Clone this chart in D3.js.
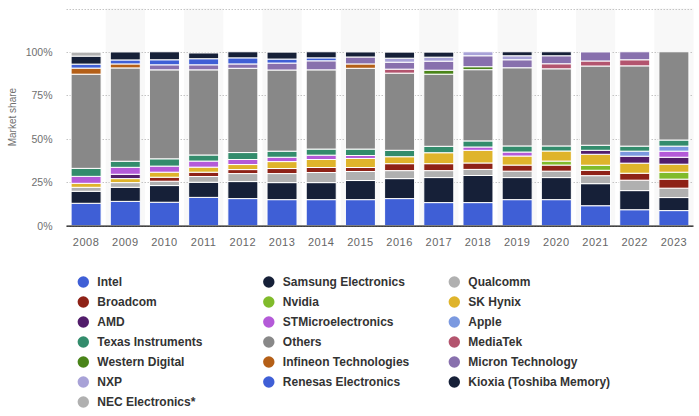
<!DOCTYPE html>
<html>
<head>
<meta charset="utf-8">
<script src="https://cdn.jsdelivr.net/npm/d3@7/dist/d3.min.js"></script>
<style>
  html, body { margin: 0; padding: 0; background: #fff; }
  svg { display: block; font-family: "Liberation Sans", Arial, sans-serif; }
</style>
</head>
<body>
<svg id="chart" width="699" height="416"></svg>
<script>
const years = ["2008","2009","2010","2011","2012","2013","2014","2015","2016","2017","2018","2019","2020","2021","2022","2023"];

const seriesNames = ["Intel","Samsung Electronics","Qualcomm","Broadcom","Nvidia","SK Hynix","AMD","STMicroelectronics","Apple","Texas Instruments","Others","MediaTek","Western Digital","Infineon Technologies","Micron Technology","NXP","Renesas Electronics","Kioxia (Toshiba Memory)","NEC Electronics*"];

const intel     = [12.9, 14.0, 13.5, 16.3, 15.6, 15.0, 15.0, 15.0, 15.6, 13.3, 13.3, 15.0, 15.0, 11.5, 9.2, 8.7];
const samsung   = [6.9, 8.1, 9.6, 8.7, 9.8, 9.8, 9.8, 11.0, 11.5, 14.4, 15.6, 12.7, 12.7, 12.7, 11.0, 7.5];
const qualcomm  = [2.3, 2.7, 2.5, 3.3, 4.6, 5.2, 5.8, 5.2, 4.6, 4.0, 3.5, 3.7, 3.7, 4.6, 6.0, 5.4];
const broadcom  = [0, 0, 2.3, 2.5, 2.3, 2.9, 2.9, 2.3, 4.0, 4.0, 3.7, 3.5, 3.5, 3.1, 4.0, 5.2];
const nvidia    = [0, 0, 0, 0, 0, 0, 0, 0, 0, 0, 0, 0, 2.3, 2.9, 0, 4.0];
const skhynix   = [2.3, 2.3, 2.9, 2.9, 2.9, 4.0, 4.6, 5.2, 4.0, 6.3, 7.3, 5.2, 5.8, 6.3, 5.8, 4.6];
const amd       = [0, 2.5, 0, 0, 0, 0, 0, 0, 0, 0, 0, 0, 0, 2.3, 4.0, 4.0];
const stmicro   = [4.0, 4.0, 3.5, 3.5, 2.9, 2.5, 2.5, 1.7, 0, 0, 1.9, 2.3, 0, 0, 0, 3.5];
const apple     = [0, 0, 0, 0, 0, 0, 0, 0, 0, 0, 0, 0, 0, 0, 2.9, 2.9];
const ti        = [4.6, 3.5, 4.2, 3.5, 4.0, 3.5, 3.5, 3.7, 3.7, 3.7, 3.5, 3.5, 2.9, 2.9, 2.9, 3.5];
const others    = [54.2, 53.7, 51.2, 49.0, 48.5, 46.7, 45.6, 46.5, 44.4, 41.5, 41.0, 45.0, 44.4, 45.6, 46.2, 50.8];
const mediatek  = [0, 0, 0, 0, 0, 0, 0, 0, 2.3, 0, 0, 0, 2.9, 2.9, 3.5, 0];
const wdigital  = [0, 0, 0, 0, 0, 0, 0, 0, 0, 2.3, 1.7, 0, 0, 0, 0, 0];
const infineon  = [3.5, 2.3, 0, 0, 0, 0, 0, 2.5, 0, 0, 0, 0, 0, 0, 0, 0];
const micron    = [0, 0, 2.9, 2.9, 2.5, 4.0, 5.2, 4.0, 4.0, 5.2, 6.3, 4.6, 4.6, 5.2, 4.6, 0];
const nxp       = [0, 0, 0, 0, 0, 0, 0, 0, 2.3, 2.3, 2.3, 2.3, 0, 0, 0, 0];
const renesas   = [2.3, 2.3, 2.9, 3.5, 3.5, 2.3, 1.7, 0, 0, 0, 0, 0, 0, 0, 0, 0];
const kioxia    = [4.6, 4.6, 4.6, 3.3, 3.5, 4.0, 3.5, 2.9, 3.5, 2.9, 0, 2.3, 2.3, 0, 0, 0];
const nec       = [2.3, 0, 0, 0, 0, 0, 0, 0, 0, 0, 0, 0, 0, 0, 0, 0];

const seriesValues = [intel, samsung, qualcomm, broadcom, nvidia, skhynix, amd, stmicro, apple, ti, others, mediatek, wdigital, infineon, micron, nxp, renesas, kioxia, nec];

const colors = ["#3f5fd6","#162038","#b0b0b0","#8e2217","#80bb2b","#dfb42b","#521d6b","#b45ad8","#7b99e0","#338c6c","#888888","#b3546e","#4a8419","#b45f17","#8870ad","#a8a2d7","#3f5fd6","#162038","#b0b0b0"];

const yTicks = [0, 25, 50, 75, 100, 125];
const yTickLabels = ["0%","25%","50%","75%","100%",""];

(function () {
const table = years.map((yr, i) => {
  const row = { year: yr };
  seriesNames.forEach((n, k) => { row[n] = seriesValues[k][i]; });
  return row;
});

const svg = d3.select("#chart");
const pLeft = 66.5, pRight = 693.5, pTop = 8.5, pBottom = 225.7;

const x = d3.scaleBand().domain(years).range([pLeft, pRight]).paddingInner(0.2345).paddingOuter(0.11725);
const y = d3.scaleLinear().domain([0, 125]).range([pBottom, pTop]);

const step = x.step();
svg.append("g").selectAll("rect").data(years.filter((d, i) => i % 2 === 1)).join("rect")
  .attr("x", d => x(d) - x.paddingInner() * step / 2)
  .attr("y", pTop)
  .attr("width", step)
  .attr("height", pBottom - pTop)
  .attr("fill", "#f8f8f8");

svg.append("g").selectAll("line").data(yTicks).join("line")
  .attr("x1", pLeft).attr("x2", pRight)
  .attr("y1", d => Math.round(y(d)) + 0.5).attr("y2", d => Math.round(y(d)) + 0.5)
  .attr("stroke", "#c4c4c4").attr("stroke-width", 1).attr("stroke-dasharray", "1.5,1.5");

svg.append("g").selectAll("text").data(yTicks).join("text")
  .attr("x", 52.5).attr("y", d => y(d) + 3.8)
  .attr("text-anchor", "end")
  .attr("font-size", "10.5px").attr("fill", "#6f6f6f")
  .text((d, i) => yTickLabels[i]);

svg.append("text")
  .attr("transform", `translate(15.5,${(pTop + pBottom) / 2}) rotate(-90)`)
  .attr("text-anchor", "middle")
  .attr("font-size", "10px").attr("fill", "#6f6f6f")
  .text("Market share");

const stack = d3.stack().keys(seriesNames)(table);
const g = svg.append("g");
stack.forEach((layer, k) => {
  g.append("g").attr("fill", colors[k]).selectAll("rect")
    .data(layer.filter(d => d[1] - d[0] > 0))
    .join("rect")
    .attr("x", d => x(d.data.year))
    .attr("width", x.bandwidth())
    .attr("y", d => y(d[1]))
    .attr("height", d => y(d[0]) - y(d[1]))
    .attr("stroke", "#ffffff").attr("stroke-width", 1);
});

svg.append("line")
  .attr("x1", pLeft).attr("x2", pRight)
  .attr("y1", pBottom + 0.5).attr("y2", pBottom + 0.5)
  .attr("stroke", "#111").attr("stroke-width", 1.3);

svg.append("g").selectAll("text").data(years).join("text")
  .attr("x", d => x(d) + x.bandwidth() / 2)
  .attr("y", 246)
  .attr("text-anchor", "middle")
  .attr("font-size", "11px").attr("letter-spacing", "0.5px").attr("fill", "#666")
  .text(d => d);

const legend = svg.append("g");
seriesNames.forEach((n, k) => {
  const col = k % 3, row = Math.floor(k / 3);
  const cx = 83.3 + col * 185.5, cy = 282 + row * 20;
  legend.append("circle").attr("cx", cx).attr("cy", cy).attr("r", 5.7).attr("fill", colors[k]);
  legend.append("text").attr("x", cx + 14).attr("y", cy + 4.3)
    .attr("font-size", "12px").attr("font-weight", "bold").attr("fill", "#333")
    .text(n);
});
})();
</script>
</body>
</html>
